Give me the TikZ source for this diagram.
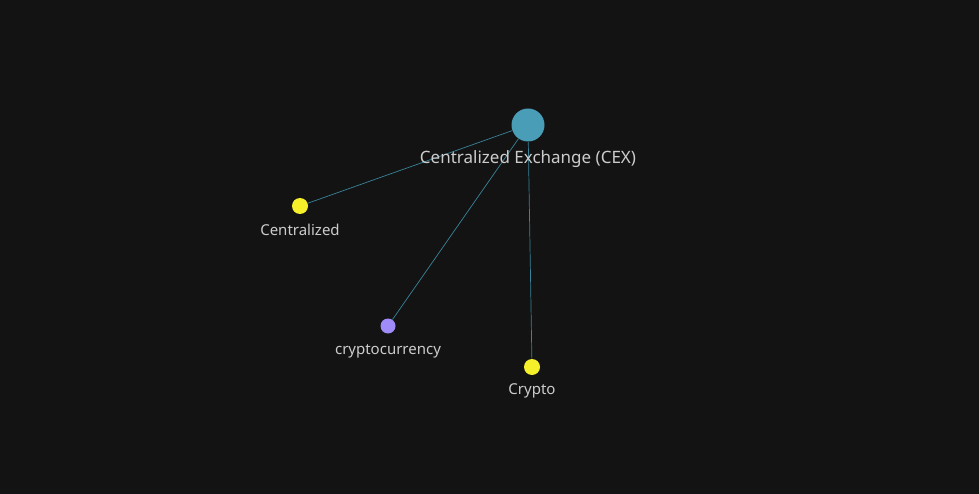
\documentclass[tikz,border=0pt]{standalone}
\usepackage{fontspec}
\setmainfont{Noto Sans}
\usepackage{tikz}
\usetikzlibrary{arrows.meta}
\definecolor{bg}{HTML}{131313}
\definecolor{hub}{HTML}{4A9DB6}
\definecolor{edge}{HTML}{3A8499}
\definecolor{ylw}{HTML}{F5F02A}
\definecolor{prp}{HTML}{A08CF8}
\definecolor{lbl}{HTML}{CCCCCC}
\tikzset{every path/.style={line width=0.7pt}}
\tikzset{hubnode/.style={circle,fill=hub,inner sep=0pt,minimum size=33pt}}
\tikzset{leaf/.style={circle,inner sep=0pt,minimum size=16pt}}
\tikzset{lab/.style={text=lbl,inner sep=0pt,font=\fontsize{15}{17}\selectfont}}
\tikzset{link/.style={draw=edge}}

\begin{document}
\begin{tikzpicture}[x=1pt,y=-1pt]
\fill[bg] (0,0) rectangle (979,494);
\useasboundingbox (0,0) rectangle (979,494);
\node[hubnode] (cex) at (528,125) {};
\node[leaf,fill=ylw] (cen) at (300,206) {};
\node[leaf,fill=prp,minimum size=15pt] (cry) at (388,326) {};
\node[leaf,fill=ylw] (cto) at (532,367) {};
\draw[link] (cex) -- (cen);
\draw[link] (cex) -- (cry);
\draw[link] (cex) -- (cto);
\node[lab,font=\fontsize{17}{19}\selectfont] (cexl) at (528,159.5) {Centralized Exchange (CEX)};
\node[lab] (cenl) at (300,230) {Centralized};
\node[lab] (cryl) at (388,351) {cryptocurrency};
\node[lab] (ctol) at (532,391) {Crypto};
\end{tikzpicture}
\end{document}
